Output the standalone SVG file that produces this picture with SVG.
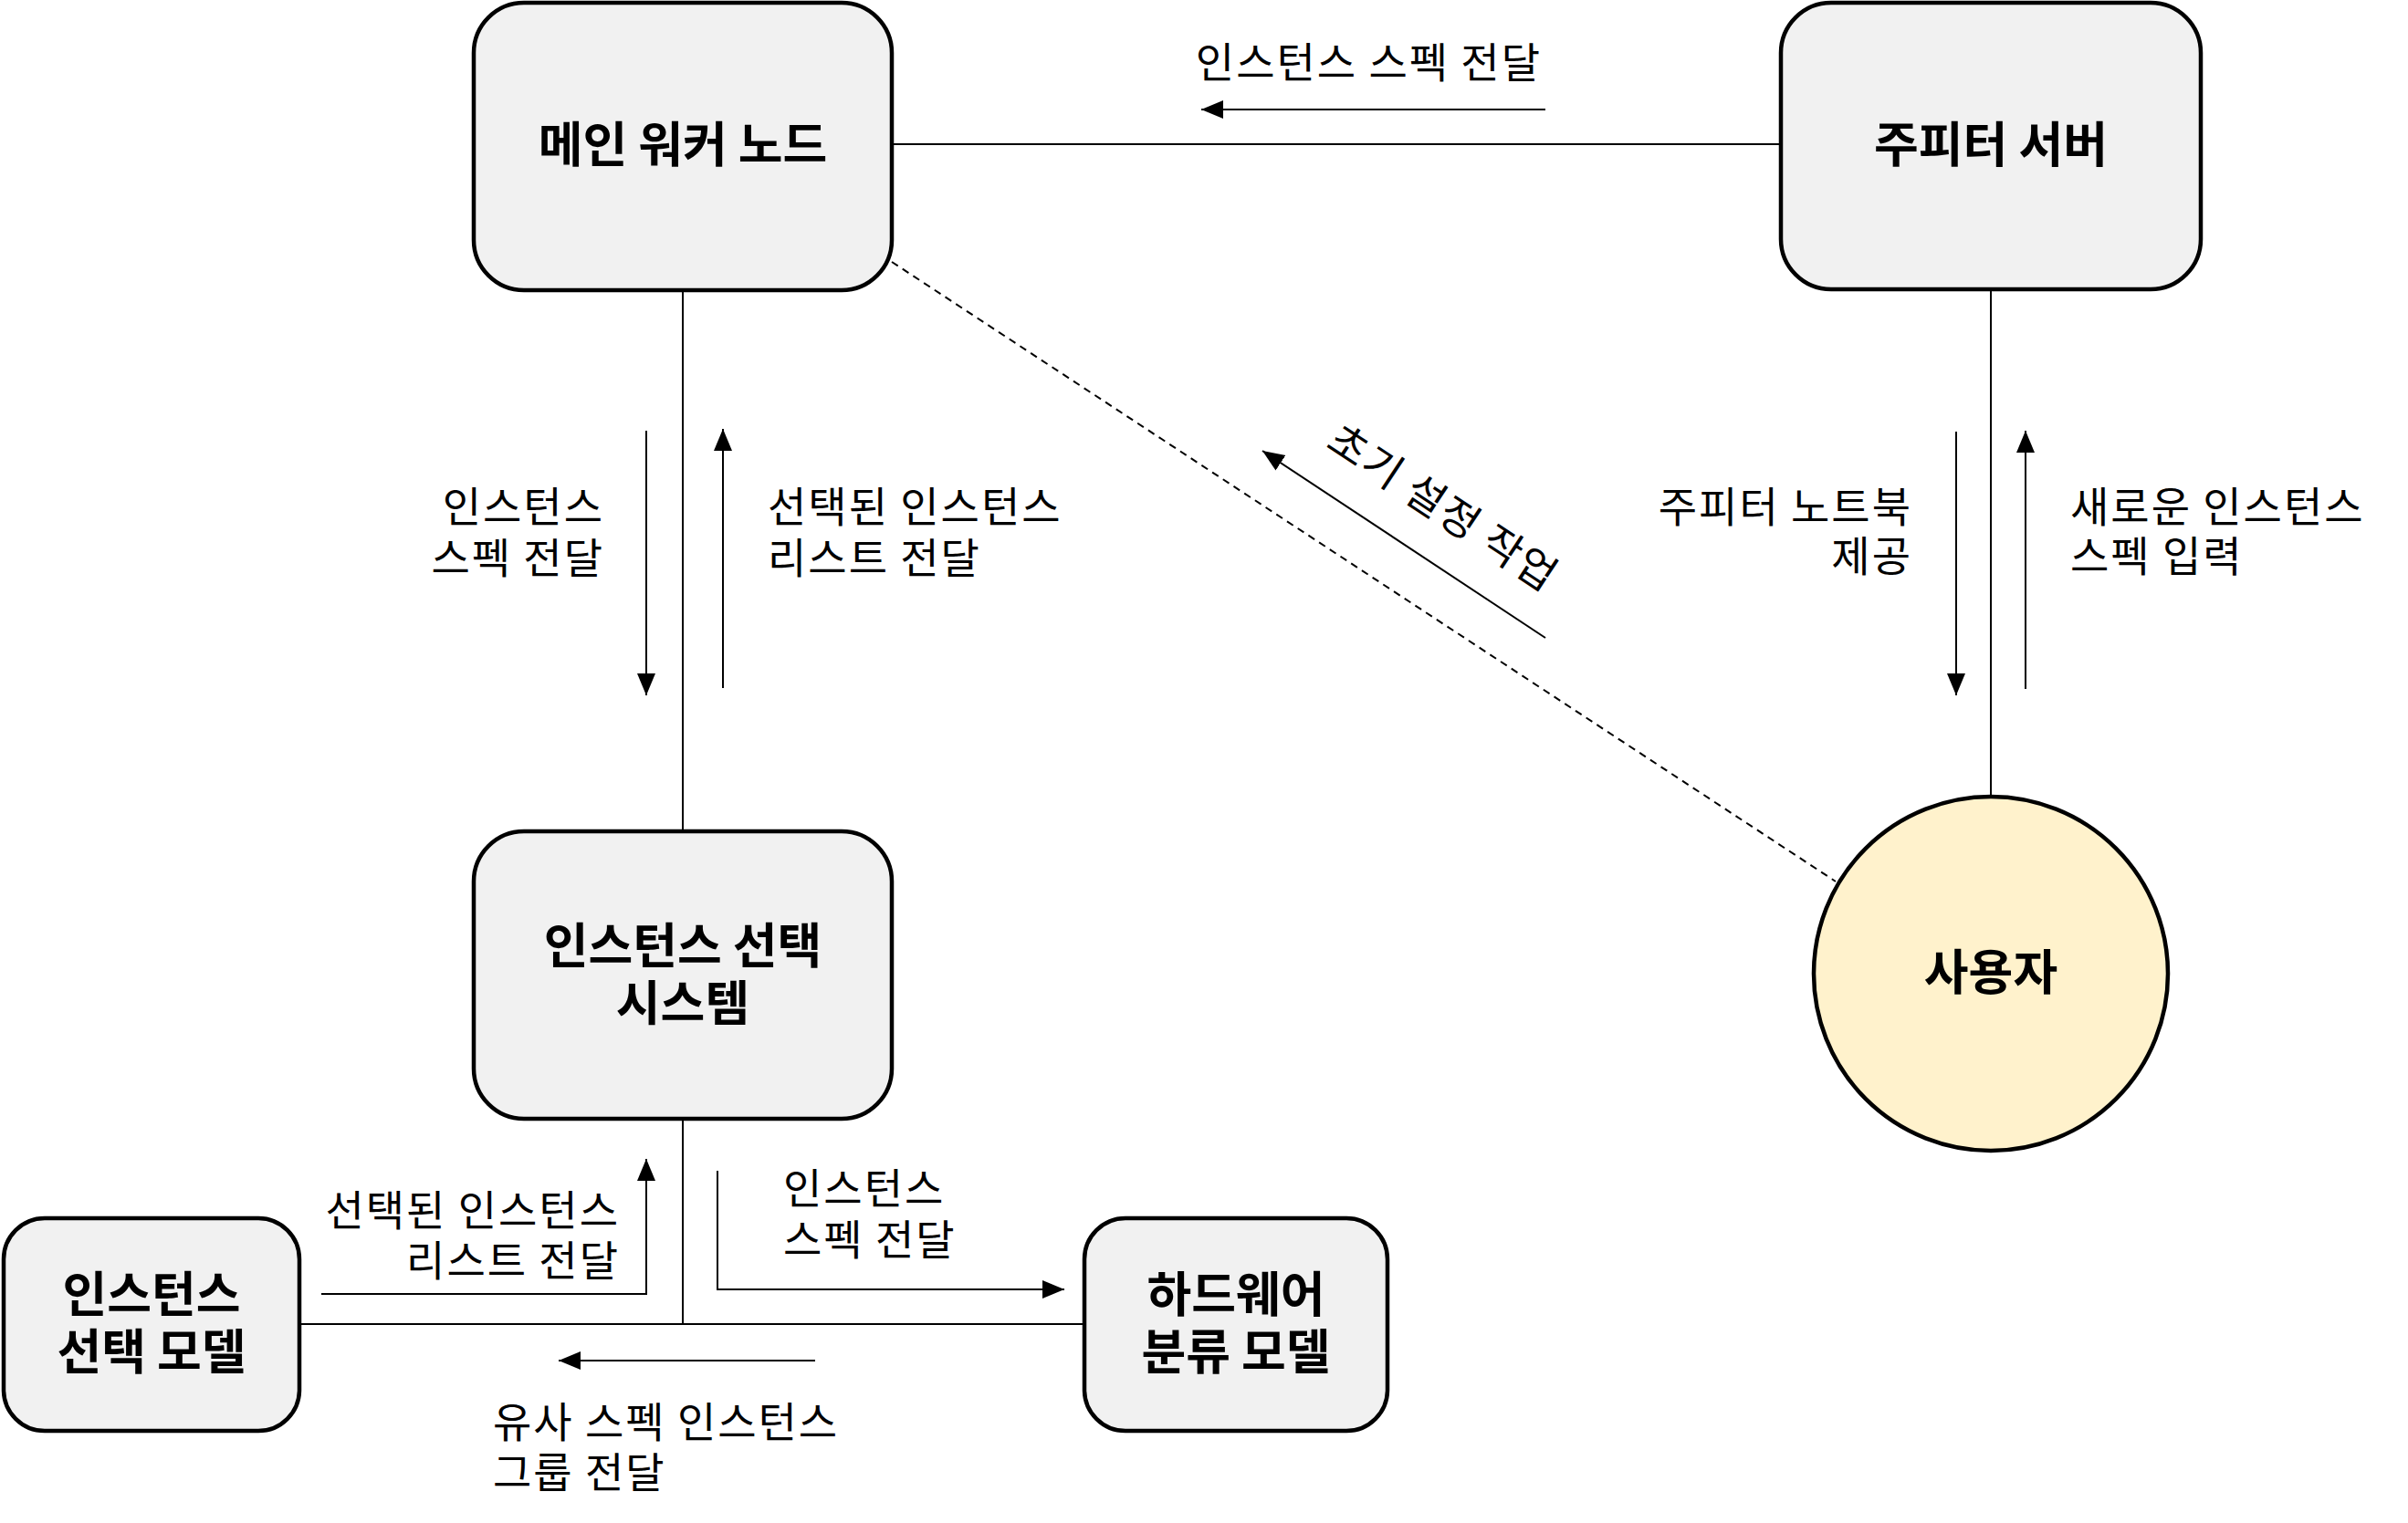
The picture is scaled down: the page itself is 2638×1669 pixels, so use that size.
<svg xmlns="http://www.w3.org/2000/svg" width="2638" height="1669" viewBox="0 0 2638 1669">
<style>
.box{fill:#f1f1f1;stroke:#000;stroke-width:4.5}
.nt{font-family:"Noto Sans CJK KR","Noto Sans",sans-serif;font-weight:bold;font-size:53px;text-anchor:middle;fill:#000}
.lb{font-family:"Noto Sans CJK KR","Noto Sans",sans-serif;font-size:46px;letter-spacing:2px;fill:#000}
.ln{stroke:#000;stroke-width:2;fill:none}
</style>
<defs>
<marker id="ah2" viewBox="0 0 24 24" refX="24" refY="12" markerWidth="24" markerHeight="24" markerUnits="userSpaceOnUse" orient="auto">
<path d="M0,2 L24,12 L0,22 Z" fill="#000"/>
</marker>
</defs>
<rect width="2638" height="1669" fill="#fff"/>
<g id="connectors">
<line class="ln" x1="977" y1="158" x2="1951" y2="158"/>
<line class="ln" x1="748" y1="318" x2="748" y2="911"/>
<line class="ln" x1="2181" y1="317" x2="2181" y2="873"/>
<line class="ln" x1="977" y1="287" x2="2011" y2="966" stroke-dasharray="8,6" stroke-width="1.8"/>
<line class="ln" x1="748" y1="1226" x2="748" y2="1451"/>
<line class="ln" x1="328" y1="1451" x2="1188" y2="1451"/>
<g style="stroke:#000;stroke-width:2;fill:none">
<line x1="1693" y1="120" x2="1316" y2="120" marker-end="url(#ah2)"/>
<line x1="708" y1="472" x2="708" y2="762" marker-end="url(#ah2)"/>
<line x1="792" y1="754" x2="792" y2="470" marker-end="url(#ah2)"/>
<line x1="2143" y1="473" x2="2143" y2="762" marker-end="url(#ah2)"/>
<line x1="2219" y1="755" x2="2219" y2="472" marker-end="url(#ah2)"/>
<line x1="1693" y1="699" x2="1383" y2="494" marker-end="url(#ah2)"/>
<polyline points="352,1418 708,1418 708,1270" marker-end="url(#ah2)"/>
<polyline points="786,1283 786,1413 1166,1413" marker-end="url(#ah2)"/>
<line x1="893" y1="1491" x2="612" y2="1491" marker-end="url(#ah2)"/>
</g>
<text class="lb" x="1689" y="85" text-anchor="end">인스턴스 스펙 전달</text>
<text class="lb" x="662" y="572" text-anchor="end">인스턴스</text>
<text class="lb" x="662" y="628" text-anchor="end">스펙 전달</text>
<text class="lb" x="841" y="572">선택된 인스턴스</text>
<text class="lb" x="841" y="628">리스트 전달</text>
<text class="lb" x="2095" y="572" text-anchor="end">주피터 노트북</text>
<text class="lb" x="2095" y="626" text-anchor="end">제공</text>
<text class="lb" x="2268" y="572">새로운 인스턴스</text>
<text class="lb" x="2268" y="626">스펙 입력</text>
<text class="lb" text-anchor="middle" transform="translate(1572,570) rotate(33.5)">초기 설정 작업</text>
<text class="lb" x="679" y="1343" text-anchor="end">선택된 인스턴스</text>
<text class="lb" x="679" y="1398" text-anchor="end">리스트 전달</text>
<text class="lb" x="858" y="1319">인스턴스</text>
<text class="lb" x="858" y="1375">스펙 전달</text>
<text class="lb" x="540" y="1575">유사 스펙 인스턴스</text>
<text class="lb" x="540" y="1630">그룹 전달</text>
</g>
<g id="main-worker">
<rect class="box" x="519" y="3" width="458" height="315" rx="55"/>
<text class="nt" x="748" y="178">메인 워커 노드</text>
</g>
<g id="jupyter">
<rect class="box" x="1951" y="3" width="460" height="314" rx="55"/>
<text class="nt" x="2181" y="178">주피터 서버</text>
</g>
<g id="selection-system">
<rect class="box" x="519" y="911" width="458" height="315" rx="55"/>
<text class="nt" x="748" y="1056">인스턴스 선택</text>
<text class="nt" x="748" y="1119">시스템</text>
</g>
<g id="user">
<circle cx="2181" cy="1067" r="194" fill="#fff2cc" stroke="#000" stroke-width="4.5"/>
<text class="nt" x="2181" y="1085">사용자</text>
</g>
<g id="selection-model">
<rect class="box" x="4" y="1335" width="324" height="233" rx="45"/>
<text class="nt" x="166" y="1438">인스턴스</text>
<text class="nt" x="166" y="1501">선택 모델</text>
</g>
<g id="hw-model">
<rect class="box" x="1188" y="1335" width="332" height="233" rx="45"/>
<text class="nt" x="1354" y="1438">하드웨어</text>
<text class="nt" x="1354" y="1501">분류 모델</text>
</g>
</svg>
